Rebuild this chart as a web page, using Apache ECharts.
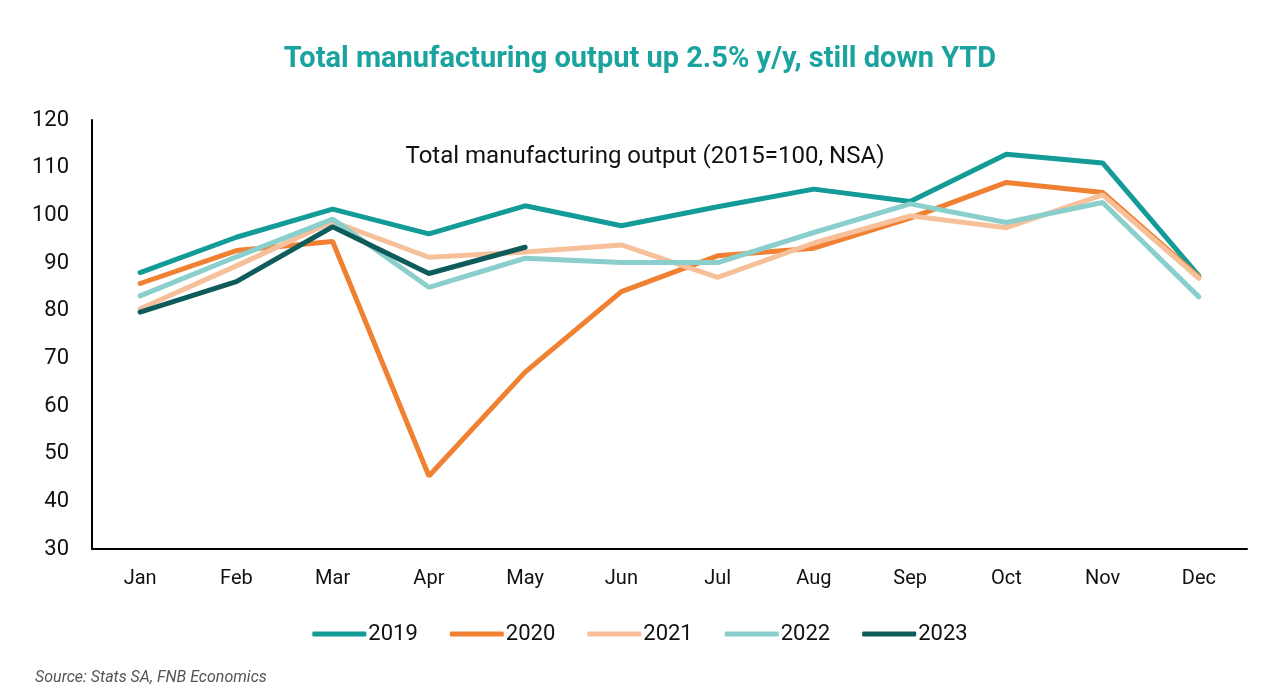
<!DOCTYPE html>
<html><head><meta charset="utf-8">
<script src="https://cdn.jsdelivr.net/npm/echarts@6/dist/echarts.min.js"></script>
<style>html,body{margin:0;padding:0;background:#fff}#c{width:1280px;height:700px}</style>
</head><body><div id="c"></div>
<script>
const months = ['Jan','Feb','Mar','Apr','May','Jun','Jul','Aug','Sep','Oct','Nov','Dec'];
const yTicks = [30,40,50,60,70,80,90,100,110,120];
const s2019 = [88.0,95.4,101.3,96.1,102.0,97.8,101.8,105.5,102.9,112.8,111.0,87.3];
const s2020 = [85.7,92.6,94.5,45.3,67.1,84.0,91.5,93.1,99.4,106.9,104.8,87.1];
const s2021 = [80.4,89.4,98.7,91.2,92.3,93.8,87.0,94.2,99.9,97.4,104.3,86.8];
const s2022 = [83.1,91.3,99.2,84.9,91.0,90.1,90.1,96.4,102.4,98.5,102.7,82.9];
const s2023 = [79.7,86.1,97.6,87.8,93.3];
const names = ['2019','2020','2021','2022','2023'];
const colors = ['#139B98','#F08132','#F6C19A','#8ACFCC','#0E5B5B'];
const seriesData = [s2019,s2020,s2021,s2022,s2023];
const FONT = 'Roboto';
const chart = echarts.init(document.getElementById('c'));
chart.setOption({
  animation:false,
  title:[{text:'Total manufacturing output up 2.5% y/y, still down YTD',left:'center',top:40,
    textStyle:{color:'#1BA3A0',fontSize:29,fontWeight:'bold',fontFamily:FONT}},
    {text:'Total manufacturing output (2015=100, NSA)',left:640,top:140,textAlign:'center',
    textStyle:{color:'#111',fontSize:24,fontWeight:'normal',fontFamily:FONT}},
    {text:'Source: Stats SA, FNB Economics',left:30,top:665,
    textStyle:{color:'#555',fontSize:16,fontStyle:'italic',fontWeight:'normal',fontFamily:FONT}}],
  grid:{left:92,right:33,top:120,bottom:151},
  legend:{top:618,left:'center',itemWidth:54,itemHeight:5,itemGap:32,icon:'roundRect',
    textStyle:{fontSize:22,color:'#111',fontFamily:FONT,padding:[0,0,0,-3]},
    data:names},
  xAxis:{type:'category',data:months,boundaryGap:true,
    axisLine:{lineStyle:{color:'#000',width:2}},axisTick:{show:false},
    axisLabel:{fontSize:20,color:'#111',fontFamily:FONT,margin:20}},
  yAxis:{type:'value',min:30,max:120,interval:10,
    axisLine:{show:true,lineStyle:{color:'#000',width:2}},axisTick:{show:false},splitLine:{show:false},
    axisLabel:{fontSize:22,color:'#111',fontFamily:FONT,margin:23}},
  series:names.map((n,i)=>({name:n,type:'line',data:seriesData[i],symbol:'none',
    lineStyle:{width:5,color:colors[i],cap:'round'},itemStyle:{color:colors[i]}}))
});
</script></body></html>
